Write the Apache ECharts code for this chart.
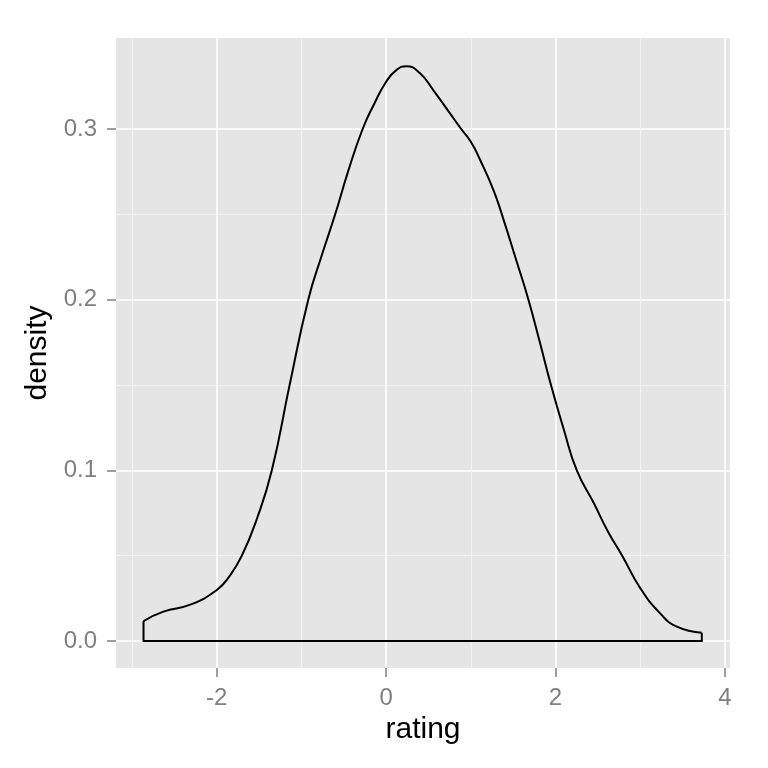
<!DOCTYPE html>
<html>
<head>
<meta charset="utf-8">
<script src="https://cdn.jsdelivr.net/npm/echarts@6/dist/echarts.min.js"></script>
<style>
  html, body { margin: 0; padding: 0; background: #fff; }
  #chart { width: 768px; height: 768px; }
</style>
</head>
<body>
<div id="chart"></div>
<script>
// density estimate of rating
const ratingX = [-2.865, -2.63, -2.314, -2.0, -1.85, -1.704, -1.527, -1.35, -1.14, -0.92,
  -0.76, -0.602, -0.45, -0.28, -0.14, 0.0, 0.12, 0.24, 0.4, 0.56, 0.756, 0.886, 1.0,
  1.11, 1.267, 1.366, 1.54, 1.68, 1.82, 1.946, 2.1, 2.251, 2.45, 2.62, 2.787, 3.0,
  3.235, 3.432, 3.727]
const densityY = [0.0117, 0.0172, 0.0213, 0.0299, 0.038, 0.05, 0.0715, 0.1, 0.15, 0.2,
  0.226, 0.25, 0.275, 0.2997, 0.3148, 0.3277, 0.3345, 0.3368, 0.3326, 0.3225, 0.309, 0.3, 0.2925,
  0.2818, 0.2642, 0.25, 0.2225, 0.2, 0.174, 0.15, 0.1235, 0.1, 0.081, 0.064, 0.05, 0.031,
  0.0162, 0.0084, 0.0049]

const xMajor = [-2, 0, 2, 4]
const xMinor = [-3, -1, 1, 3]
const yMajor = [0, 0.1, 0.2, 0.3]
const yMinor = [0.05, 0.15, 0.25]
const xRange = [-3.19, 4.06]
const yRange = [-0.0158, 0.3533]

const font = 'Liberation Sans, Arial, sans-serif'
const curve = ratingX.map((x, i) => [x, densityY[i]])
const last = ratingX.length - 1
// closing edges of the polygon (down to zero, along the base, back up)
const edges = [
  [ratingX[0], densityY[0]], [ratingX[0], 0],
  [ratingX[last], 0], [ratingX[last], densityY[last]]
]

// hidden axis that only draws the light minor grid lines
const minorAxis = (vals, range, pos) => ({
  type: 'value', min: range[0], max: range[1], position: pos,
  axisLine: { show: false, onZero: false },
  axisTick: { show: false, customValues: vals },
  axisLabel: { show: false, customValues: vals },
  splitLine: { show: true, lineStyle: { color: '#f2f2f2', width: 1 } }
})

const chart = echarts.init(document.getElementById('chart'))
const option = {
  backgroundColor: '#fff',
  animation: false,
  grid: {
    left: 116, right: 38, top: 38, bottom: 100,
    outerBoundsMode: 'none', containLabel: false,
    show: true, backgroundColor: '#e5e5e5', borderWidth: 0
  },
  xAxis: [
    minorAxis(xMinor, xRange, 'top'),
    {
      type: 'value', min: xRange[0], max: xRange[1], position: 'bottom',
      name: 'rating', nameLocation: 'middle', nameGap: 46,
      nameTextStyle: { color: '#000', fontSize: 30, fontFamily: font },
      axisLine: { show: false, onZero: false },
      axisTick: { show: true, customValues: xMajor, length: 9, lineStyle: { color: '#7f7f7f', width: 1.5 } },
      axisLabel: { customValues: xMajor, color: '#7f7f7f', fontSize: 24, fontFamily: font, margin: 18 },
      splitLine: { show: true, lineStyle: { color: '#fff', width: 1.6 } }
    }
  ],
  yAxis: [
    minorAxis(yMinor, yRange, 'right'),
    {
      type: 'value', min: yRange[0], max: yRange[1], position: 'left',
      name: 'density', nameLocation: 'middle', nameGap: 57,
      nameTextStyle: { color: '#000', fontSize: 30, fontFamily: font },
      axisLine: { show: false, onZero: false },
      axisTick: { show: true, customValues: yMajor, length: 9, lineStyle: { color: '#7f7f7f', width: 1.5 } },
      axisLabel: {
        customValues: yMajor, color: '#7f7f7f', fontSize: 24, fontFamily: font, margin: 19,
        formatter: v => v.toFixed(1)
      },
      splitLine: { show: true, lineStyle: { color: '#fff', width: 1.6 } }
    }
  ],
  series: [
    {
      type: 'line', xAxisIndex: 1, yAxisIndex: 1,
      data: curve, smooth: 0.5, showSymbol: false,
      lineStyle: { color: '#000', width: 2 }
    },
    {
      type: 'line', xAxisIndex: 1, yAxisIndex: 1,
      data: edges, smooth: false, showSymbol: false,
      lineStyle: { color: '#000', width: 2, join: 'miter' }
    }
  ]
}
chart.setOption(option)
</script>
</body>
</html>
